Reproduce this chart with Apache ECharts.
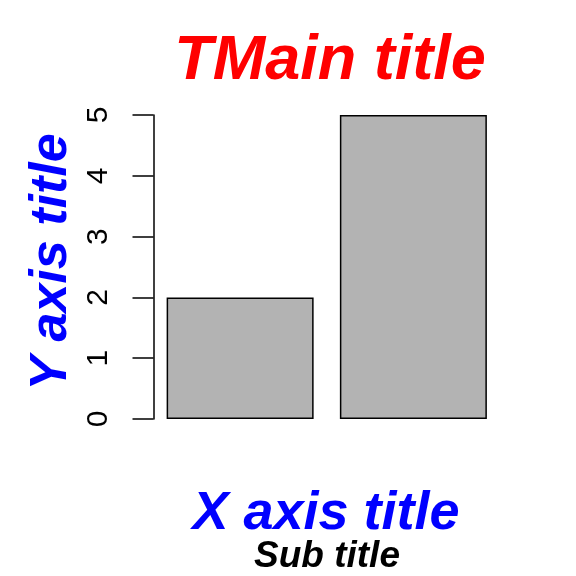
<!DOCTYPE html>
<html>
<head>
<meta charset="utf-8">
<script src="https://cdn.jsdelivr.net/npm/echarts@6/dist/echarts.min.js"></script>
<style>
  html, body { margin: 0; padding: 0; background: #fff; }
  #chart { width: 576px; height: 576px; }
</style>
</head>
<body>
<div id="chart"></div>
<script>
const categories = ["A", "B"];
const values = [2, 5];
const yTicks = [0, 1, 2, 3, 4, 5];

const mainTitle = "TMain title";
const xTitle = "X axis title";
const yTitle = "Y axis title";
const subTitle = "Sub title";

const FONT = '"Liberation Sans", Arial, Helvetica, sans-serif';

const getOption = () => {
    return {
        animation: false,
        backgroundColor: "#ffffff",
        grid: {
            left: 153.5,
            right: 76,
            top: 115,
            bottom: 157
        },
        xAxis: {
            type: "category",
            data: categories,
            show: false
        },
        yAxis: {
            type: "value",
            min: yTicks[0],
            max: yTicks[yTicks.length - 1],
            interval: 1,
            splitLine: { show: false },
            axisLine: {
                show: true,
                lineStyle: { color: "#000", width: 1.5 }
            },
            axisTick: {
                show: true,
                inside: false,
                length: 21,
                lineStyle: { color: "#000", width: 1.5 }
            },
            axisLabel: {
                rotate: 90,
                margin: 40,
                color: "#000",
                fontSize: 30,
                fontFamily: FONT
            }
        },
        series: [
            {
                type: "bar",
                data: values,
                barWidth: 147,
                itemStyle: {
                    color: "#b3b3b3",
                    borderColor: "#000",
                    borderWidth: 1.5
                }
            }
        ],
        graphic: [
            {
                type: "text",
                style: {
                    text: mainTitle,
                    x: 330, y: 62,
                    textAlign: "center",
                    textVerticalAlign: "middle",
                    font: "italic bold 63px " + FONT,
                    fill: "#ff0000"
                }
            },
            {
                type: "text",
                style: {
                    text: xTitle,
                    x: 326, y: 514,
                    textAlign: "center",
                    textVerticalAlign: "middle",
                    font: "italic bold 54px " + FONT,
                    fill: "#0000ff"
                }
            },
            {
                type: "text",
                style: {
                    text: subTitle,
                    x: 327, y: 557,
                    textAlign: "center",
                    textVerticalAlign: "middle",
                    font: "italic bold 37px " + FONT,
                    fill: "#000000"
                }
            },
            {
                type: "text",
                x: 52, y: 262,
                rotation: Math.PI / 2,
                style: {
                    text: yTitle,
                    x: 0, y: 0,
                    textAlign: "center",
                    textVerticalAlign: "middle",
                    font: "italic bold 52px " + FONT,
                    fill: "#0000ff"
                }
            }
        ]
    };
};

document.addEventListener("DOMContentLoaded", function() {
    const chart = echarts.init(document.getElementById("chart"));
    chart.setOption(getOption());
});
</script>
</body>
</html>
